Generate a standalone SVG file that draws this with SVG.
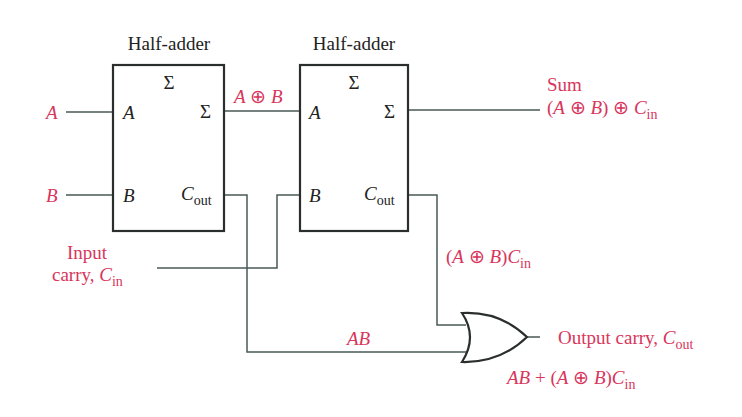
<svg xmlns="http://www.w3.org/2000/svg" width="742" height="417" viewBox="0 0 742 417">
<style>
.w{fill:none;stroke:#4a5a55;stroke-width:1.5}
.b{fill:#fff;stroke:#2a2f2e;stroke-width:2.2}
.k{font-family:"Liberation Serif",serif;font-size:19px;fill:#222}
.r{font-family:"Liberation Serif",serif;font-size:19px;fill:#d8365c}
.i{font-style:italic}
.s{font-size:14px}
</style>
<rect width="742" height="417" fill="#fff"/>
<g id="connectors">
<path class="w" d="M66 112H113M66 195H113M224 111H300M408 110H540M224 195H247V352H466M408 195H437V325H466M157 268H277V195H300M527 337H540"/>
</g>
<g id="ha1">
<rect class="b" x="113" y="65" width="111" height="166"/>
<text class="k" x="169" y="50" text-anchor="middle">Half-adder</text>
<text class="k" x="169" y="89" text-anchor="middle" font-size="24">Σ</text>
<text class="k i" x="123" y="119">A</text>
<text class="k" x="200" y="118">Σ</text>
<text class="k i" x="123" y="202">B</text>
<text class="k" x="181" y="200"><tspan class="i">C</tspan><tspan class="s" dy="5">out</tspan></text>
</g>
<g id="ha2">
<rect class="b" x="300" y="65" width="108" height="166"/>
<text class="k" x="354" y="50" text-anchor="middle">Half-adder</text>
<text class="k" x="354" y="89" text-anchor="middle" font-size="24">Σ</text>
<text class="k i" x="309" y="119">A</text>
<text class="k" x="384" y="118">Σ</text>
<text class="k i" x="309" y="202">B</text>
<text class="k" x="364" y="200"><tspan class="i">C</tspan><tspan class="s" dy="5">out</tspan></text>
</g>
<g id="or">
<path class="b" stroke-width="2.5" d="M462 313Q500 311 527 337Q500 363 462 362Q478 337 462 313Z"/>
</g>
<g id="labels">
<text class="r i" x="46" y="119">A</text>
<text class="r i" x="46" y="202">B</text>
<text class="r" x="234" y="103"><tspan class="i">A</tspan> ⊕ <tspan class="i">B</tspan></text>
<text class="r" x="547" y="91">Sum</text>
<text class="r" x="547" y="114">(<tspan class="i">A</tspan> ⊕ <tspan class="i">B</tspan>) ⊕ <tspan class="i">C</tspan><tspan class="s" dy="5">in</tspan></text>
<text class="r" x="67" y="259">Input</text>
<text class="r" x="52" y="281">carry, <tspan class="i">C</tspan><tspan class="s" dy="5">in</tspan></text>
<text class="r" x="446" y="263">(<tspan class="i">A</tspan> ⊕ <tspan class="i">B</tspan>)<tspan class="i">C</tspan><tspan class="s" dy="5">in</tspan></text>
<text class="r i" x="347" y="345">AB</text>
<text class="r" x="558" y="344">Output carry, <tspan class="i">C</tspan><tspan class="s" dy="5">out</tspan></text>
<text class="r" x="507" y="384"><tspan class="i">AB</tspan> + (<tspan class="i">A</tspan> ⊕ <tspan class="i">B</tspan>)<tspan class="i">C</tspan><tspan class="s" dy="5">in</tspan></text>
</g>
</svg>
